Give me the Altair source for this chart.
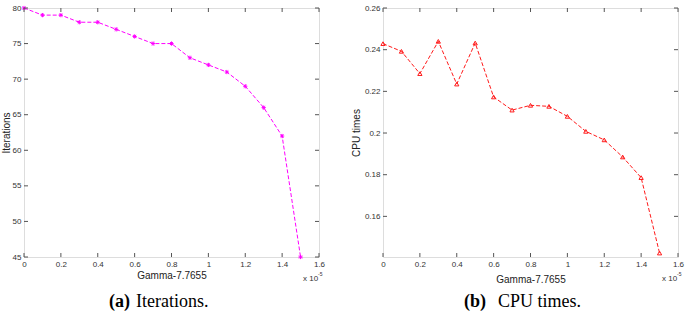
import altair as alt
import pandas as pd

# ---- data ----
gamma = [0.0, 0.1, 0.2, 0.3, 0.4, 0.5, 0.6, 0.7, 0.8, 0.9, 1.0, 1.1, 1.2, 1.3, 1.4, 1.5]
iterations = [80, 79, 79, 78, 78, 77, 76, 75, 75, 73, 72, 71, 69, 66, 62, 45]
cpu_times = [0.2429, 0.2392, 0.2285, 0.2440, 0.2235, 0.2432, 0.2173, 0.2110,
             0.2133, 0.2128, 0.2080, 0.2008, 0.1967, 0.1885, 0.1786, 0.1424]
x_ticks = [0, 0.2, 0.4, 0.6, 0.8, 1.0, 1.2, 1.4, 1.6]
iter_ticks = [45, 50, 55, 60, 65, 70, 75, 80]
cpu_ticks = [0.16, 0.18, 0.20, 0.22, 0.24, 0.26]

W, H = 295, 249
FRAME = "#555555"
LBL = "#333333"
ASTER = "M-1,0L1,0M0,-1L0,1M-0.7,-0.7L0.7,0.7M-0.7,0.7L0.7,-0.7"


def panel(yvals, ytitle, ydomain, yticks, color, shape, tag, caption,
          cap_x1, cap_x2, xtitle_pad, ytitle_pad, yfmt):
    df = pd.DataFrame({"g": gamma, "v": yvals})
    xs = alt.Scale(domain=[0, 1.6], nice=False, zero=False)
    ys = alt.Scale(domain=ydomain, nice=False, zero=False)
    xax = alt.Axis(values=x_ticks, ticks=False, domain=False, grid=False, format="~g",
                   labelFontSize=8, labelColor=LBL, labelPadding=3, labelFont="Liberation Sans",
                   title="Gamma-7.7655", titleFontSize=10, titleFontWeight="normal",
                   titleColor="#222222", titleFont="Liberation Sans", titlePadding=xtitle_pad,
                   labelFlush=False, labelOverlap=False, labelBound=False)
    yax = alt.Axis(values=yticks, ticks=False, domain=False, grid=False, format=yfmt,
                   labelFontSize=8, labelColor=LBL, labelPadding=3, labelFont="Liberation Sans",
                   title=ytitle, titleFontSize=10, titleFontWeight="normal",
                   titleColor="#222222", titleFont="Liberation Sans", titlePadding=ytitle_pad,
                   labelFlush=False, labelOverlap=False, labelBound=False)
    base = alt.Chart(df)
    line = base.mark_line(color=color, strokeDash=[4, 2], strokeWidth=1).encode(
        x=alt.X("g:Q", scale=xs, axis=xax),
        y=alt.Y("v:Q", scale=ys, axis=yax),
    )
    pts = base.mark_point(shape=shape, color=color, filled=False, size=18, strokeWidth=1,
                          opacity=1).encode(
        x=alt.X("g:Q", scale=xs, axis=xax), y=alt.Y("v:Q", scale=ys, axis=yax))

    xt = alt.Chart(pd.DataFrame({"t": x_ticks}))
    yt = alt.Chart(pd.DataFrame({"t": yticks}))
    tk = dict(color=FRAME, strokeWidth=1)
    xb = xt.mark_rule(**tk).encode(x=alt.X("t:Q", scale=xs, axis=xax),
                                   y=alt.value(H), y2=alt.value(H - 4))
    xtop = xt.mark_rule(**tk).encode(x=alt.X("t:Q", scale=xs, axis=xax),
                                     y=alt.value(0), y2=alt.value(4))
    yl = yt.mark_rule(**tk).encode(y=alt.Y("t:Q", scale=ys, axis=yax),
                                   x=alt.value(0), x2=alt.value(4))
    yr = yt.mark_rule(**tk).encode(y=alt.Y("t:Q", scale=ys, axis=yax),
                                   x=alt.value(W), x2=alt.value(W - 4))

    one = alt.Chart(pd.DataFrame({"a": [0]}))
    exp1 = one.mark_text(text="x 10", fontSize=8, font="Liberation Sans", color=LBL,
                         align="left", baseline="alphabetic").encode(
        x=alt.value(W - 16), y=alt.value(H + 24))
    exp2 = one.mark_text(text="-5", fontSize=5, font="Liberation Sans", color=LBL,
                         align="left", baseline="alphabetic").encode(
        x=alt.value(W - 1), y=alt.value(H + 19))
    cap1 = one.mark_text(text=tag, fontSize=18, font="Liberation Serif", fontWeight="bold",
                         color="black", align="left", baseline="alphabetic").encode(
        x=alt.value(cap_x1), y=alt.value(H + 50))
    cap2 = one.mark_text(text=caption, fontSize=18, font="Liberation Serif",
                         color="black", align="left", baseline="alphabetic").encode(
        x=alt.value(cap_x2), y=alt.value(H + 50))

    return alt.layer(line, pts, xb, xtop, yl, yr, exp1, exp2, cap1, cap2).properties(
        width=W, height=H)


left = panel(iterations, "Iterations", [45, 80], iter_ticks, "#FF00FF", ASTER,
             "(a)", "Iterations.", 85, 112, 2, 1, "d")
right = panel(cpu_times, "CPU times", [0.1405, 0.26], cpu_ticks, "#FF1A1A", "triangle-up",
              "(b)", "CPU times.", 81, 115, 6, 3, "~g")

chart = alt.hconcat(left, right, spacing=64, bounds="flush").properties(
    padding={"left": 0, "top": 3, "right": 0, "bottom": 0},
).configure_view(stroke=FRAME, strokeWidth=1).configure(background="white")

chart.save("out.html", embed_options={"renderer": "svg", "actions": False})
